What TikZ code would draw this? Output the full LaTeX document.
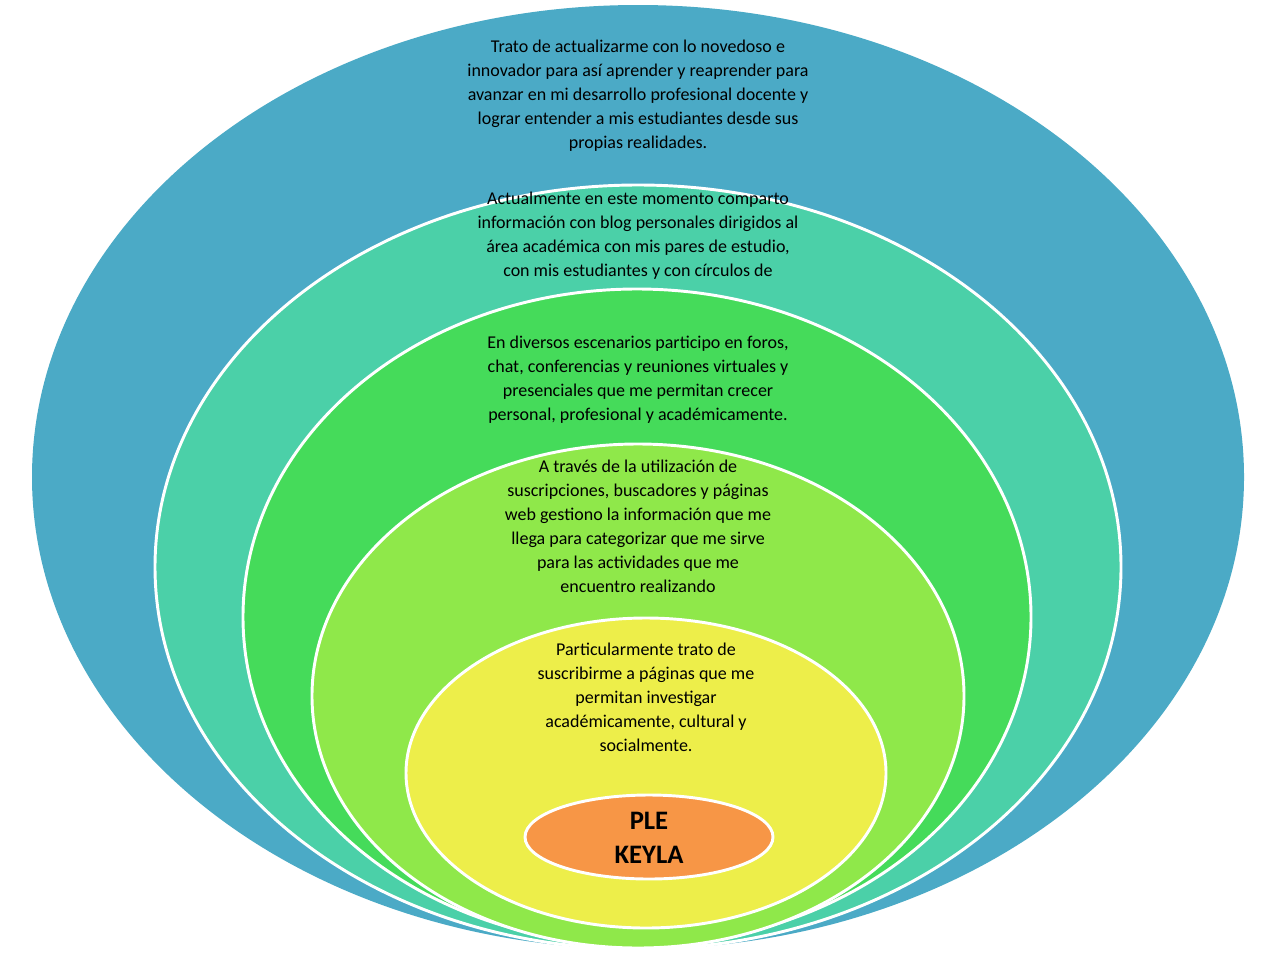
\documentclass[tikz,border=0pt]{standalone}
\usepackage{fontspec}
\setmainfont{Carlito}
\begin{document}
\begin{tikzpicture}[x=0.75pt,y=-0.75pt,
  ring/.style={draw=white,line width=2.2pt},
  txt/.style={align=center,font=\fontsize{13.5}{18}\selectfont,text=black}]
\useasboundingbox[fill=white] (0,0) rectangle (1276,960);
\definecolor{c1}{HTML}{4BAAC6}\definecolor{c2}{HTML}{4BD0A8}
\definecolor{c3}{HTML}{45DB5A}\definecolor{c4}{HTML}{8FE84A}
\definecolor{c5}{HTML}{EDEE4A}\definecolor{c6}{HTML}{F79646}
\fill[c1] (638,477) ellipse [x radius=606, y radius=472];
\draw[ring,fill=c2] (638,567) ellipse [x radius=483, y radius=382];
\draw[ring,fill=c3] (637,617) ellipse [x radius=394, y radius=328];
\draw[ring,fill=c4] (638,696) ellipse [x radius=326, y radius=252];
\draw[ring,fill=c5] (646,773) ellipse [x radius=240, y radius=155];
\draw[ring,fill=c6] (649,837) ellipse [x radius=124, y radius=42];
\node[txt] (t1) at (638,96) {Trato de actualizarme con lo novedoso e\\innovador para así aprender y reaprender para\\avanzar en mi desarrollo profesional docente y\\lograr entender a mis estudiantes desde sus\\propias realidades.};
\node[txt] (t2) at (638,236) {Actualmente en este momento comparto\\información con blog personales dirigidos al\\área académica con mis pares de estudio,\\con mis estudiantes y con círculos de};
\node[txt] (t3) at (638,380) {En diversos escenarios participo en foros,\\chat, conferencias y reuniones virtuales y\\presenciales que me permitan crecer\\personal, profesional y académicamente.};
\node[txt] (t4) at (638,526) {A través de la utilización de\\suscripciones, buscadores y páginas\\web gestiono la información que me\\llega para categorizar que me sirve\\para las actividades que me\\encuentro realizando};
\node[txt] (t5) at (646,697) {Particularmente trato de\\suscribirme a páginas que me\\permitan investigar\\académicamente, cultural y\\socialmente.};
\node[align=center,font=\fontsize{20}{26}\selectfont\bfseries] (ple) at (649,838) {PLE\\KEYLA};
\end{tikzpicture}
\end{document}
